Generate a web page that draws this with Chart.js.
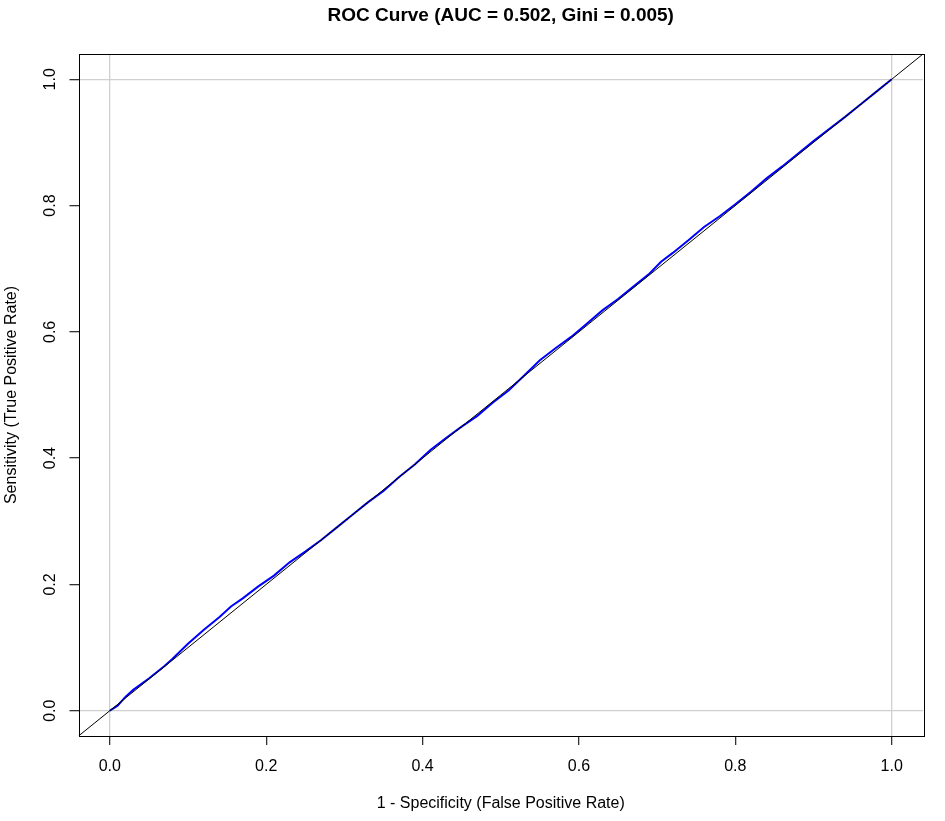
<!DOCTYPE html>
<html>
<head>
<meta charset="utf-8">
<script src="https://cdn.jsdelivr.net/npm/chart.js@4/dist/chart.umd.min.js"></script>
<style>
  html, body { margin: 0; padding: 0; background: #fff; }
  #wrap { width: 945px; height: 821px; }
</style>
</head>
<body>
<div id="wrap"><canvas id="rocChart"></canvas></div>
<script>
// false positive rate (1 - specificity)
var fpr = [0, 0.01, 0.02, 0.03, 0.05, 0.07, 0.08, 0.10, 0.12, 0.14, 0.155, 0.17, 0.19, 0.21, 0.23, 0.25,
    0.27, 0.29, 0.31, 0.33, 0.35, 0.37, 0.39, 0.41, 0.43, 0.45, 0.47, 0.49, 0.51, 0.53, 0.55, 0.57,
    0.59, 0.61, 0.63, 0.65, 0.67, 0.69, 0.705, 0.72, 0.74, 0.76, 0.78, 0.80, 0.82, 0.84, 0.86, 0.88,
    0.90, 0.92, 0.94, 0.96, 0.98, 1.0];
// sensitivity (true positive rate)
var tpr = [0, 0.008, 0.022, 0.033, 0.051, 0.071, 0.082, 0.106, 0.128, 0.148, 0.165, 0.178, 0.197, 0.214, 0.235, 0.252,
    0.270, 0.290, 0.310, 0.330, 0.348, 0.370, 0.390, 0.413, 0.432, 0.450, 0.467, 0.488, 0.507, 0.531, 0.555, 0.574,
    0.592, 0.613, 0.634, 0.652, 0.672, 0.692, 0.711, 0.725, 0.745, 0.766, 0.783, 0.802, 0.822, 0.843, 0.862, 0.882,
    0.902, 0.921, 0.940, 0.960, 0.980, 1.0];
// reference line y = x across the whole plotting range
var diagX = [-0.04, 1.04];
var tickVals = [0, 0.2, 0.4, 0.6, 0.8, 1.0];
var gridVals = [0, 1];

var mainTitle = 'ROC Curve (AUC = 0.502, Gini = 0.005)';
var xTitle = '1 - Specificity (False Positive Rate)';
var yTitle = 'Sensitivity (True Positive Rate)';

var FONT = '"Liberation Sans", Arial, Helvetica, sans-serif';

var rocPoints = fpr.map((x, i) => ({ x: x, y: tpr[i] }));
var diagPoints = diagX.map(v => ({ x: v, y: v }));

function gridColor(ctx) {
    return (ctx.tick && gridVals.indexOf(ctx.tick.value) >= 0) ? '#d0d0d0' : 'rgba(0,0,0,0)';
}

// box, title and rotated y tick labels like base R graphics
var rStyle = {
    id: 'rStyle',
    afterDraw(chart) {
        const ctx = chart.ctx;
        const a = chart.chartArea;
        const ys = chart.scales.y;
        ctx.save();
        ctx.strokeStyle = '#000';
        ctx.lineWidth = 1;
        ctx.strokeRect(Math.round(a.left) + 0.5, Math.round(a.top) + 0.5,
            Math.round(a.right - a.left), Math.round(a.bottom - a.top));

        ctx.fillStyle = '#000';
        ctx.textAlign = 'center';
        ctx.textBaseline = 'middle';
        ctx.font = 'bold 19px ' + FONT;
        ctx.fillText(mainTitle, (a.left + a.right) / 2, 16);

        ctx.font = '16px ' + FONT;
        tickVals.forEach(v => {
            ctx.save();
            ctx.translate(51, ys.getPixelForValue(v));
            ctx.rotate(-Math.PI / 2);
            ctx.fillText(v.toFixed(1), 0, 0);
            ctx.restore();
        });
        ctx.restore();
    }
};

window.onload = () => {
    const el = document.querySelector('#rocChart').getContext('2d');
    new Chart(el, {
        type: 'scatter',
        data: {
            datasets: [{
                label: 'diagonal',
                data: diagPoints,
                showLine: true,
                borderColor: '#000',
                borderWidth: 1,
                pointRadius: 0,
                order: 0
            }, {
                label: 'ROC',
                data: rocPoints,
                showLine: true,
                borderColor: '#0000ff',
                borderWidth: 2,
                pointRadius: 0,
                tension: 0,
                order: 1
            }]
        },
        options: {
            responsive: true,
            maintainAspectRatio: false,
            animation: false,
            layout: { padding: { top: 54, right: 22, left: 0, bottom: 0 } },
            plugins: {
                legend: { display: false },
                tooltip: { enabled: false }
            },
            scales: {
                x: {
                    type: 'linear',
                    min: -0.04,
                    max: 1.04,
                    afterBuildTicks: s => { s.ticks = tickVals.map(v => ({ value: v })); },
                    afterFit: s => { s.height = 85; },
                    border: { display: false },
                    grid: { color: gridColor, lineWidth: 1.3, tickColor: '#333', tickLength: 9 },
                    ticks: {
                        color: '#000',
                        font: { family: FONT, size: 16 },
                        padding: 12,
                        maxRotation: 0,
                        callback: v => Number(v).toFixed(1)
                    },
                    title: {
                        display: true,
                        text: xTitle,
                        color: '#000',
                        font: { family: FONT, size: 16 },
                        padding: { top: 0, bottom: 8 }
                    }
                },
                y: {
                    type: 'linear',
                    min: -0.04,
                    max: 1.04,
                    afterBuildTicks: s => { s.ticks = tickVals.map(v => ({ value: v })); },
                    afterFit: s => { s.width = 78.5; },
                    border: { display: false },
                    grid: { color: gridColor, lineWidth: 1.3, tickColor: '#333', tickLength: 9 },
                    ticks: { display: false },
                    title: {
                        display: true,
                        text: yTitle,
                        color: '#000',
                        font: { family: FONT, size: 16 },
                        padding: { top: 2, bottom: 0 }
                    }
                }
            }
        },
        plugins: [rStyle]
    });
};
</script>
</body>
</html>
